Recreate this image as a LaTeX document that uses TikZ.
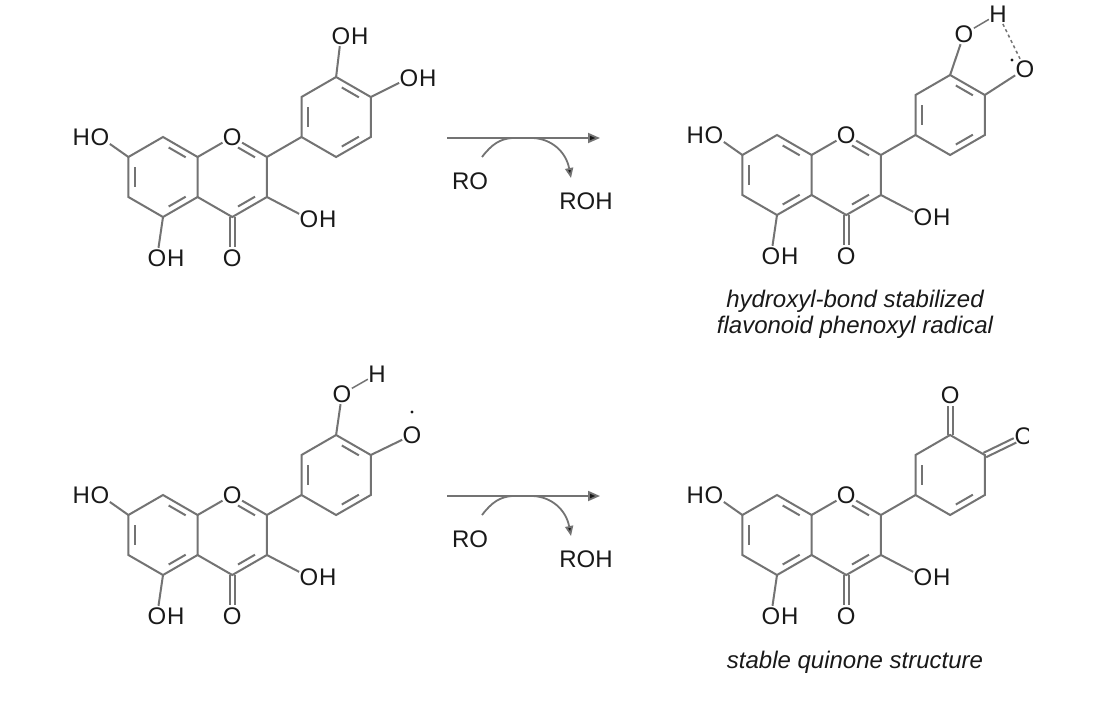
\documentclass[tikz,border=0pt]{standalone}
\usepackage{fontspec}
\setmainfont{Liberation Sans}
\usetikzlibrary{calc,arrows.meta}
\definecolor{bondgray}{rgb}{0.45,0.45,0.45}
\definecolor{inkgray}{rgb}{0.1,0.1,0.1}
\tikzset{
  bond/.style={draw=bondgray, line width=2pt},
  atom/.style={inner xsep=0.3pt, inner ysep=1.5pt, text=inkgray, font=\fontsize{24}{24}\selectfont},
  caption/.style={text=inkgray, font=\fontsize{24}{26}\selectfont\itshape, align=center},
  react/.style={draw=bondgray, line width=1.8pt},
}
% inner line of a double bond, pulled toward the ring centre
\newcommand\dbl[3]{\draw[bond] ($($(#1)!.2!(#2)$)!.18!(#3)$) -- ($($(#2)!.2!(#1)$)!.18!(#3)$);}
% the common flavonol skeleton
\newcommand\flavskel{
  \coordinate (actr) at (163,177);
  \coordinate (c8) at (163,137);
  \coordinate (c8a) at (197.6,157);
  \coordinate (c4a) at (197.6,197);
  \coordinate (c5) at (163,217);
  \coordinate (c6) at (128.4,197);
  \coordinate (c7) at (128.4,157);
  \coordinate (cctr) at (232.3,177);
  \node[atom] (o1) at (232.3,137) {O};
  \coordinate (c2) at (266.9,157);
  \coordinate (c3) at (266.9,197);
  \coordinate (c4) at (232.3,217);
  \coordinate (bctr) at (336.1,117);
  \coordinate (b1) at (301.5,137);
  \coordinate (b2) at (301.5,97);
  \coordinate (b3) at (336.1,77);
  \coordinate (b4) at (370.8,97);
  \coordinate (b5) at (370.8,137);
  \coordinate (b6) at (336.1,157);
  \node[atom] (o7) at (100,137) {O};
  \node[atom, anchor=east, inner xsep=0pt] (h7) at (o7.west) {H};
  \node[atom] (o5) at (157,258) {O};
  \node[atom, anchor=west, inner xsep=0pt] (h5) at (o5.east) {H};
  \node[atom] (o4) at (232.3,258) {O};
  \node[atom] (o3) at (309,219) {O};
  \node[atom, anchor=west, inner xsep=0pt] (h3) at (o3.east) {H};
  \draw[bond] (c8) -- (c8a) -- (c4a) -- (c5) -- (c6) -- (c7) -- cycle;
  \draw[bond] (c8a) -- (o1) -- (c2) -- (c3) -- (c4) -- (c4a);
  \draw[bond] (c2) -- (b1);
  \draw[bond] (b1) -- (b2) -- (b3) -- (b4) -- (b5) -- (b6) -- cycle;
  \draw[bond] (c7) -- (o7);
  \draw[bond] (c5) -- (o5);
  \draw[bond] (c3) -- (o3);
  \draw[bond, shorten >=11pt] ([xshift=-2.5pt]c4) -- ([xshift=-2.5pt]o4.center);
  \draw[bond, shorten >=11pt] ([xshift=2.5pt]c4) -- ([xshift=2.5pt]o4.center);
  \dbl{c8}{c8a}{actr}
  \dbl{c6}{c7}{actr}
  \dbl{c4a}{c5}{actr}
  \dbl{o1}{c2}{cctr}
  \dbl{c3}{c4}{cctr}
  \dbl{b1}{b2}{bctr}
}
% reaction arrow with RO / ROH
\newcommand\reaction{
  \coordinate (a0) at (447,138);
  \coordinate (a1) at (600,138);
  \node[atom] (ro) at (470,181) {RO};
  \node[atom] (roh) at (586,201) {ROH};
  \coordinate (ra) at (482,157);
  \coordinate (rb) at (571,178);
  \draw[react, -{Triangle[length=12pt,width=10pt,fill=inkgray]}] (a0) -- (a1);
  \draw[react, -{Triangle[length=10pt,width=8pt,fill=inkgray]}] (ra) .. controls (492,144) and (500,139) .. (512,138) -- (533,138) .. controls (552,139) and (566,152) .. (rb);
}

\begin{document}
\begin{tikzpicture}[x=1pt, y=-1pt]
\useasboundingbox[fill=white] (0,0) rectangle (1107,707);

% top left: quercetin
\begin{scope}
\flavskel
\dbl{b3}{b4}{bctr}
\dbl{b5}{b6}{bctr}
\node[atom] (o3p) at (341,36) {O};
\node[atom, anchor=west, inner xsep=0pt] (h3p) at (o3p.east) {H};
\node[atom] (o4p) at (409,78) {O};
\node[atom, anchor=west, inner xsep=0pt] (h4p) at (o4p.east) {H};
\draw[bond] (b3) -- (o3p);
\draw[bond] (b4) -- (o4p);
\end{scope}

\reaction

% top right: hydrogen-bonded radical
\begin{scope}[shift={(614,-2)}]
\flavskel
\dbl{b3}{b4}{bctr}
\dbl{b5}{b6}{bctr}
\node[atom] (o3p) at (350,36) {O};
\node[atom] (h3p) at (384,16) {H};
\node[atom] (o4p) at (411,71) {O};
\fill[inkgray] (398,62) circle (1.6);
\draw[bond] (b3) -- (o3p);
\draw[bond] (b4) -- (o4p);
\draw[bond, line width=1.5pt] (o3p) -- (h3p);
\draw[bond, dashed, line width=1.5pt] (h3p) -- (o4p);
\end{scope}
\node[caption] (cap1) at (855,314) {hydroxyl-bond stabilized\\flavonoid phenoxyl radical};

% bottom left: phenoxyl radical
\begin{scope}[shift={(0,358)}]
\flavskel
\dbl{b3}{b4}{bctr}
\dbl{b5}{b6}{bctr}
\node[atom] (o3p) at (342,36) {O};
\node[atom] (h3p) at (377,16) {H};
\node[atom] (o4p) at (412,77) {O};
\fill[inkgray] (412,54) circle (1.6);
\draw[bond] (b3) -- (o3p);
\draw[bond] (b4) -- (o4p);
\draw[bond, line width=1.5pt] (o3p) -- (h3p);
\end{scope}

\begin{scope}[shift={(0,358)}]
\reaction
\end{scope}

% bottom right: quinone
\begin{scope}[shift={(614,358)}]
\flavskel
\dbl{b5}{b6}{bctr}
\node[atom] (o3p) at (336.1,37) {O};
\begin{scope}
\clip (390,40) rectangle (414,110);
\node[atom] (o4p) at (410,78) {O};
\end{scope}
\draw[bond, shorten >=11pt] ([xshift=-2.5pt]b3) -- ([xshift=-2.5pt]o3p.center);
\draw[bond, shorten >=11pt] ([xshift=2.5pt]b3) -- ([xshift=2.5pt]o3p.center);
\draw[bond, shorten >=10pt] ([shift={(1.3,2.2)}]b4) -- ([shift={(1.3,2.2)}]o4p.center);
\draw[bond, shorten >=10pt] ([shift={(-1.3,-2.2)}]b4) -- ([shift={(-1.3,-2.2)}]o4p.center);
\end{scope}
\node[caption] (cap2) at (855,662) {stable quinone structure};
\end{tikzpicture}
\end{document}
